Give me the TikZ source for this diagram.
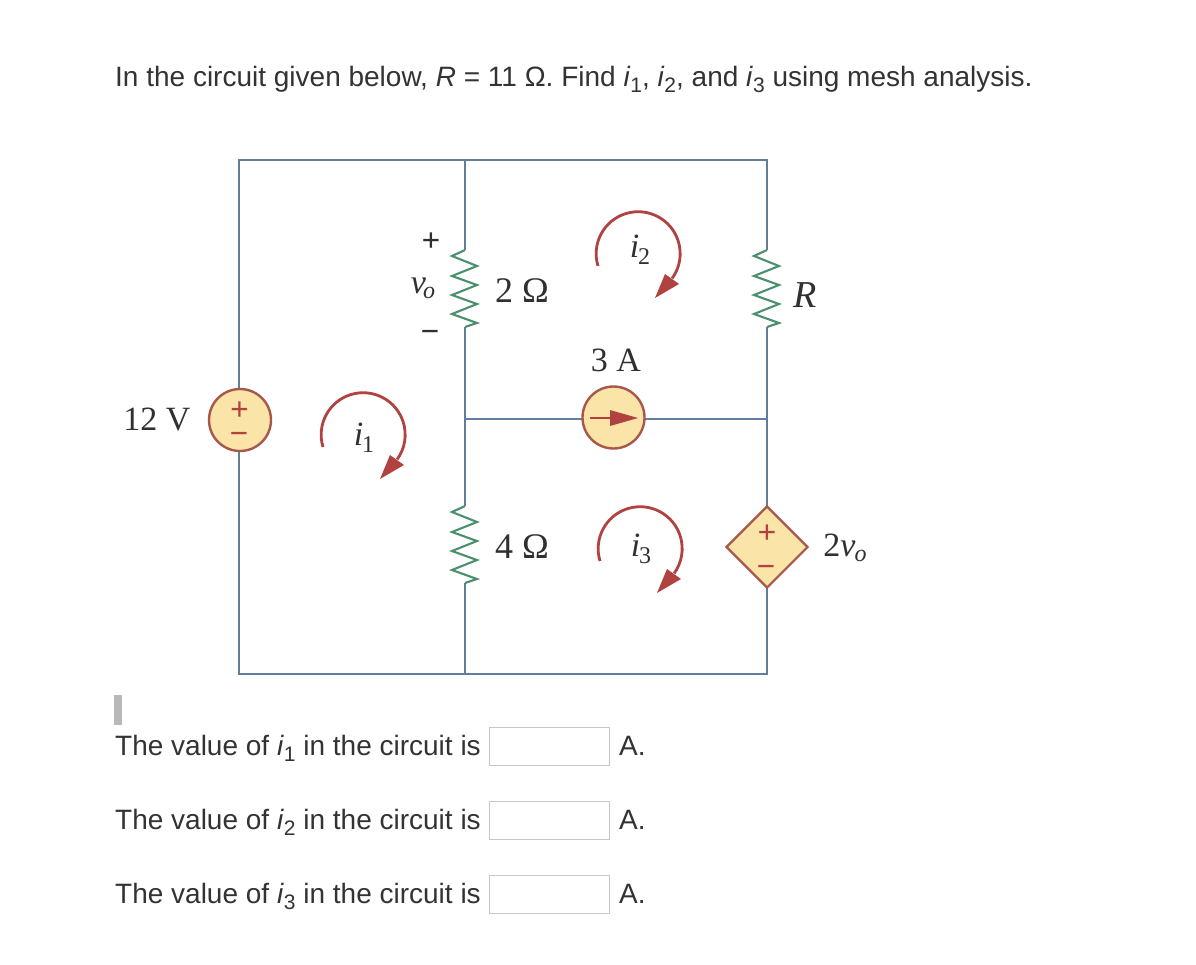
\documentclass[tikz,border=0pt]{standalone}
\usepackage{fontspec}
\setmainfont{Liberation Sans}
\newfontfamily\lbser{Liberation Serif}
\usetikzlibrary{shapes.geometric}
\definecolor{wirec}{HTML}{5F7F9C}
\definecolor{resc}{HTML}{4A8F6E}
\definecolor{srcfill}{HTML}{FBE4A8}
\definecolor{srcline}{HTML}{A8574B}
\definecolor{arcc}{HTML}{B0423F}
\definecolor{txtc}{HTML}{333333}
\definecolor{serc}{HTML}{303030}
\newcommand{\isub}[1]{\textit{i}\raisebox{-6pt}{\fontsize{21}{21}\selectfont #1}}
\newcommand{\cisub}[1]{\textit{i}\kern-1pt\raisebox{-7pt}{\fontsize{24}{24}\selectfont #1}}
\newcommand{\zig}{-- ++(-13,6) -- ++(25,10) -- ++(-25,10) -- ++(25,9) -- ++(-25,10) -- ++(25,9) -- ++(-25,10) -- ++(25,9) -- ++(-12,4)}
\newcommand{\meshat}[3]{%
  \coordinate (#3) at (#1,#2);
  \draw[mesharc] (#3) arc[start angle=197,end angle=-36,radius=42pt];
  \fill[arcc] (#3) ++(57,32) -- ++(10,-24) -- ++(7,5) -- ++(7,5) -- cycle;
}
\tikzset{
  wire/.style={draw=wirec,line width=2.1pt},
  resist/.style={draw=resc,line width=2.1pt,line join=miter},
  srcnode/.style={circle,draw=srcline,fill=srcfill,line width=2.4pt,minimum size=62pt,inner sep=0pt},
  depnode/.style={diamond,draw=srcline,fill=srcfill,line width=2.2pt,minimum width=82pt,minimum height=82pt,inner sep=0pt},
  mesharc/.style={draw=arcc,line width=2.8pt},
  lab/.style={font=\lbser\fontsize{34}{36}\selectfont,text=serc,inner sep=0pt},
  ohm/.style={font=\lbser\fontsize{36}{38}\selectfont,text=serc,inner sep=0pt},
  pol/.style={font=\lbser\bfseries\fontsize{33}{33}\selectfont,text=serc,inner sep=0pt},
  srcpol/.style={font=\lbser\bfseries\fontsize{33}{33}\selectfont,text=arcc,inner sep=0pt},
  body/.style={font=\fontsize{28}{32}\selectfont,text=txtc,inner sep=0pt,anchor=base west},
  ansbox/.style={draw=black!22,line width=1.6pt,fill=white,minimum width=120pt,minimum height=38pt,inner sep=0pt},
}
\begin{document}
\begin{tikzpicture}[x=1pt,y=-1pt]
\useasboundingbox (0,0) rectangle (1196,964);
\fill[white] (0,0) rectangle (1196,964);
\node[body] (title) at (115,86.5) {In the circuit given below, \textit{R} = 11 Ω. Find \isub{1}, \isub{2}, and \isub{3} using mesh analysis.};

% junctions
\coordinate (tl) at (239,160);
\coordinate (tm) at (465,160);
\coordinate (tr) at (767,160);
\coordinate (ml) at (465,419);
\coordinate (mr) at (767,419);
\coordinate (bl) at (239,674);
\coordinate (bm) at (465,674);
\coordinate (br) at (767,674);
\coordinate (r1a) at (465,250);
\coordinate (r1b) at (465,327);
\coordinate (r2a) at (465,506);
\coordinate (r2b) at (465,583);
\coordinate (r3a) at (767,250);
\coordinate (r3b) at (767,327);

% wires
\draw[wire,line join=miter] (tl |- 0,419) -- (tl) -- (tr) -- (r3a);
\draw[wire,line join=miter] (bl |- 0,419) -- (bl) -- (br) -- (br |- 0,547);
\draw[wire] (tm) -- (r1a);
\draw[wire] (r1b) -- (r2a);
\draw[wire] (r2b) -- (bm);
\draw[wire] (r3b) -- (br |- 0,547);
\draw[wire] (ml) -- (mr);

% sources
\node[srcnode] (vs) at (240,420) {};
\node[srcnode] (cs) at (613.5,417.5) {};
\node[depnode] (ds) at (767,547) {};

% resistors
\draw[resist] (r1a) \zig;
\draw[resist] (r2a) \zig;
\draw[resist] (r3a) \zig;

% source marks
\node[srcpol] (vp) at (239.5,411) {+};
\node[srcpol] (vm) at (239,438) {−};
\node[srcpol] (dp) at (767,534) {+};
\node[srcpol] (dm) at (766,571) {−};
\coordinate (csa) at (590,418);
\coordinate (csb) at (638,418);
\draw[arcc,line width=2.6pt] (csa) -- (612,418);
\fill[arcc] (csb) -- (610,410) -- (610,426) -- cycle;

% mesh arrows
\meshat{323}{447}{m1}
\meshat{598}{266}{m2}
\meshat{600}{561}{m3}

% labels
\node[lab] (l12) at (157,419) {12 V};
\node[ohm] (l2o) at (522,291) {2 Ω};
\node[ohm] (l4o) at (522,547) {4 Ω};
\node[lab] (l3a) at (616,360) {3 A};
\node[lab,font=\lbser\fontsize{38}{40}\selectfont] (lr) at (805,295) {\itshape R};
\node[lab] (lv2) at (845,548) {2\textit{v}\kern-1pt\raisebox{-5pt}{\fontsize{24}{24}\selectfont\itshape o}};
\node[lab] (lvo) at (423,288) {\textit{v}\kern-3pt\raisebox{-5pt}{\fontsize{24}{24}\selectfont\itshape o}};
\node[pol] (vop) at (431,242) {+};
\node[pol] (vom) at (430,336) {−};
\node[lab] (li1) at (364,438) {\cisub{1}};
\node[lab] (li2) at (640,250) {\cisub{2}};
\node[lab] (li3) at (641,549) {\cisub{3}};

% answer rows
\fill[black!28] (114,695) rectangle (122,725);
\node[body] (q1) at (115,755.5) {The value of \isub{1} in the circuit is};
\node[body] (q2) at (115,829.5) {The value of \isub{2} in the circuit is};
\node[body] (q3) at (115,903.5) {The value of \isub{3} in the circuit is};
\node[ansbox] (b1) at (549.5,746.5) {};
\node[ansbox] (b2) at (549.5,820.5) {};
\node[ansbox] (b3) at (549.5,894.5) {};
\node[body] (a1) at (619,755.5) {A.};
\node[body] (a2) at (619,829.5) {A.};
\node[body] (a3) at (619,903.5) {A.};
\end{tikzpicture}
\end{document}
